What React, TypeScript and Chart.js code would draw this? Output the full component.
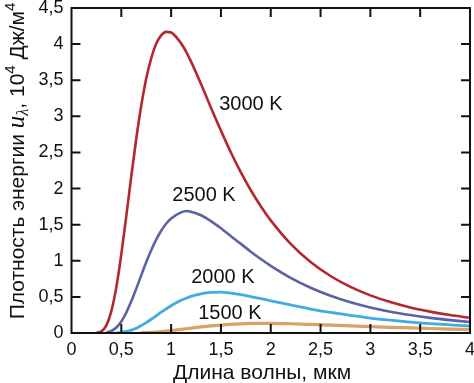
import React, { useEffect, useRef } from "react";
import { Chart, registerables } from "chart.js";

Chart.register(...registerables);

// Wavelength, µm
const wavelengths = [0.25, 0.3, 0.35, 0.4, 0.45, 0.5, 0.55, 0.6, 0.65, 0.7, 0.75, 0.8, 0.85, 0.9, 0.95, 1.0, 1.1, 1.15, 1.2, 1.3, 1.4, 1.5, 1.6, 1.7, 1.8, 1.9, 2.0, 2.2, 2.4, 2.6, 2.8, 3.0, 3.2, 3.4, 3.6, 3.8, 4.0];

// Energy density, 10^4 J/m^4
const u3000 = [0.002, 0.023, 0.106, 0.303, 0.635, 1.09, 1.618, 2.17, 2.69, 3.146, 3.524, 3.804, 4.004, 4.12, 4.17, 4.16, 4.01, 3.896, 3.757, 3.447, 3.12, 2.802, 2.5, 2.225, 1.977, 1.756, 1.56, 1.235, 0.983, 0.789, 0.638, 0.521, 0.428, 0.354, 0.296, 0.249, 0.21];
const u2500 = [null, null, 0.007, 0.028, 0.076, 0.16, 0.283, 0.438, 0.614, 0.799, 0.979, 1.145, 1.292, 1.416, 1.512, 1.585, 1.67, 1.69, 1.68, 1.63, 1.55, 1.45, 1.341, 1.234, 1.126, 1.024, 0.93, 0.764, 0.627, 0.516, 0.426, 0.354, 0.295, 0.248, 0.209, 0.178, 0.152];
const u2000 = [null, null, null, null, 0.003, 0.009, 0.021, 0.04, 0.067, 0.102, 0.144, 0.19, 0.238, 0.288, 0.334, 0.378, 0.452, 0.482, 0.507, 0.543, 0.562, 0.565, 0.552, 0.53, 0.505, 0.476, 0.446, 0.388, 0.332, 0.284, 0.243, 0.206, 0.177, 0.152, 0.13, 0.113, 0.098];
const u1500 = [null, null, null, null, null, null, null, null, null, 0.003, 0.006, 0.0095, 0.014, 0.02, 0.027, 0.034, 0.051, 0.059, 0.068, 0.084, 0.098, 0.11, 0.12, 0.127, 0.132, 0.134, 0.134, 0.128, 0.119, 0.109, 0.099, 0.089, 0.079, 0.07, 0.062, 0.055, 0.049];

const seriesNames = ["3000 K", "2500 K", "2000 K", "1500 K"];
const seriesValues = [u3000, u2500, u2000, u1500];
const seriesColors = ["#b3282f", "#5a63a3", "#40ade0", "#d9a267"];
const seriesWidths = [2.6, 2.6, 2.8, 3.2];
const labelX = [1.8, 1.33, 1.52, 1.59];
const labelY = [3.17, 1.91, 0.77, 0.27];

const X_MIN = 0;
const X_MAX = 4;
const Y_MIN = 0;
const Y_MAX = 4.5;
const STEP = 0.5;
const xTickValues = [0.5, 1, 1.5, 2, 2.5, 3, 3.5];
const yTickValues = [0.5, 1, 1.5, 2, 2.5, 3, 3.5, 4];
// inward tick length, expressed in axis units (≈9 px)
const TICK_DX = 0.09;
const TICK_DY = 0.125;

const xTitle = "Длина волны, мкм";

const SANS = '"Liberation Sans", Arial, Helvetica, sans-serif';
const SERIF = '"Liberation Serif", "DejaVu Serif", serif';

const fmt = (v: number) => String(v).replace(".", ",");

const INK = "#111111";

// frame and tick marks built from the axis limits and tick values
const framePoints = [
  { x: X_MIN, y: Y_MIN },
  { x: X_MAX, y: Y_MIN },
  { x: X_MAX, y: Y_MAX },
  { x: X_MIN, y: Y_MAX },
  { x: X_MIN, y: Y_MIN },
];
const tickPoints: { x: number; y: number | null }[] = [];
xTickValues.forEach((v) => {
  tickPoints.push({ x: v, y: Y_MIN }, { x: v, y: Y_MIN + TICK_DY }, { x: v, y: null });
  tickPoints.push({ x: v, y: Y_MAX }, { x: v, y: Y_MAX - TICK_DY }, { x: v, y: null });
});
yTickValues.forEach((v) => {
  tickPoints.push({ x: X_MIN, y: v }, { x: X_MIN + TICK_DX, y: v }, { x: X_MIN, y: null });
  tickPoints.push({ x: X_MAX - TICK_DX, y: v }, { x: X_MAX, y: v }, { x: X_MAX, y: null });
});

const decorPlugin = {
  id: "planckDecor",
  afterDraw(chart: any) {
    const { ctx, scales } = chart;
    const sx = scales.x;
    const sy = scales.y;
    ctx.save();
    ctx.fillStyle = INK;

    // curve labels
    ctx.font = `20px ${SANS}`;
    ctx.textAlign = "center";
    ctx.textBaseline = "middle";
    seriesNames.forEach((n, i) => {
      ctx.fillText(n, sx.getPixelForValue(labelX[i]), sy.getPixelForValue(labelY[i]));
    });

    // x title
    ctx.font = `21px ${SANS}`;
    ctx.textBaseline = "alphabetic";
    ctx.fillText(xTitle, 262, 379);

    // y title (rotated, with italic symbol and superscripts)
    const segs = [
      { t: "Плотность энергии ", f: `21px ${SANS}`, dy: 0 },
      { t: "u", f: `italic 25px ${SERIF}`, dy: 0 },
      { t: "λ", f: `italic 16px ${SERIF}`, dy: 4 },
      { t: ", 10", f: `21px ${SANS}`, dy: 0 },
      { t: "4", f: `15px ${SANS}`, dy: -9 },
      { t: " Дж/м", f: `21px ${SANS}`, dy: 0 },
      { t: "4", f: `15px ${SANS}`, dy: -9 },
    ];
    let total = 0;
    const widths = segs.map((s) => {
      ctx.font = s.f;
      const w = ctx.measureText(s.t).width;
      total += w;
      return w;
    });
    ctx.translate(24, 161);
    ctx.rotate(-Math.PI / 2);
    ctx.textAlign = "left";
    let x = -total / 2;
    segs.forEach((s, i) => {
      ctx.font = s.f;
      ctx.fillText(s.t, x, s.dy);
      x += widths[i];
    });
    ctx.restore();
  },
};

export default function App() {
  const ref = useRef<HTMLCanvasElement | null>(null);
  useEffect(() => {
    if (!ref.current) return;
    const curveSets = seriesNames.map((n, i) => ({
      label: n,
      data: wavelengths.map((w, j) => ({ x: w, y: seriesValues[i][j] })),
      borderColor: seriesColors[i],
      backgroundColor: seriesColors[i],
      borderWidth: seriesWidths[i],
      pointRadius: 0,
      fill: false,
      cubicInterpolationMode: "monotone" as const,
      spanGaps: false,
    }));
    const chart = new Chart(ref.current, {
      type: "line",
      data: {
        datasets: [
          {
            label: "frame",
            data: framePoints,
            borderColor: INK,
            backgroundColor: INK,
            borderWidth: 2,
            borderCapStyle: "square" as const,
            borderJoinStyle: "miter" as const,
            pointRadius: 0,
            fill: false,
            tension: 0,
            clip: false as any,
          },
          {
            label: "ticks",
            data: tickPoints,
            borderColor: INK,
            backgroundColor: INK,
            borderWidth: 2,
            pointRadius: 0,
            fill: false,
            tension: 0,
            spanGaps: false,
            clip: false as any,
          },
          ...curveSets,
        ],
      },
      options: {
        animation: false,
        responsive: false,
        layout: { padding: { left: 0, top: 8, right: 4, bottom: 0 } },
        plugins: { legend: { display: false }, tooltip: { enabled: false } },
        scales: {
          x: {
            type: "linear",
            min: X_MIN,
            max: X_MAX,
            grid: { display: false, drawTicks: false },
            border: { display: false },
            ticks: {
              stepSize: STEP,
              padding: 6,
              color: INK,
              font: { family: SANS, size: 18 },
              callback: (v: any) => fmt(Number(v)),
              maxRotation: 0,
            },
            afterFit: (s: any) => {
              s.height = 50;
              s.paddingLeft = 0;
              s.paddingRight = 0;
            },
          },
          y: {
            type: "linear",
            min: Y_MIN,
            max: Y_MAX,
            grid: { display: false, drawTicks: false },
            border: { display: false },
            ticks: {
              stepSize: STEP,
              padding: 8,
              color: INK,
              font: { family: SANS, size: 18 },
              callback: (v: any) => fmt(Number(v)),
            },
            afterFit: (s: any) => {
              s.width = 71.5;
              s.paddingTop = 0;
              s.paddingBottom = 0;
            },
          },
        },
      },
      plugins: [decorPlugin],
    });
    return () => chart.destroy();
  }, []);

  return (
    <div style={{ position: "absolute", left: 0, top: 0, width: 474, height: 383, background: "#fff" }}>
      <canvas ref={ref} width={474} height={383} style={{ display: "block" }} />
    </div>
  );
}
